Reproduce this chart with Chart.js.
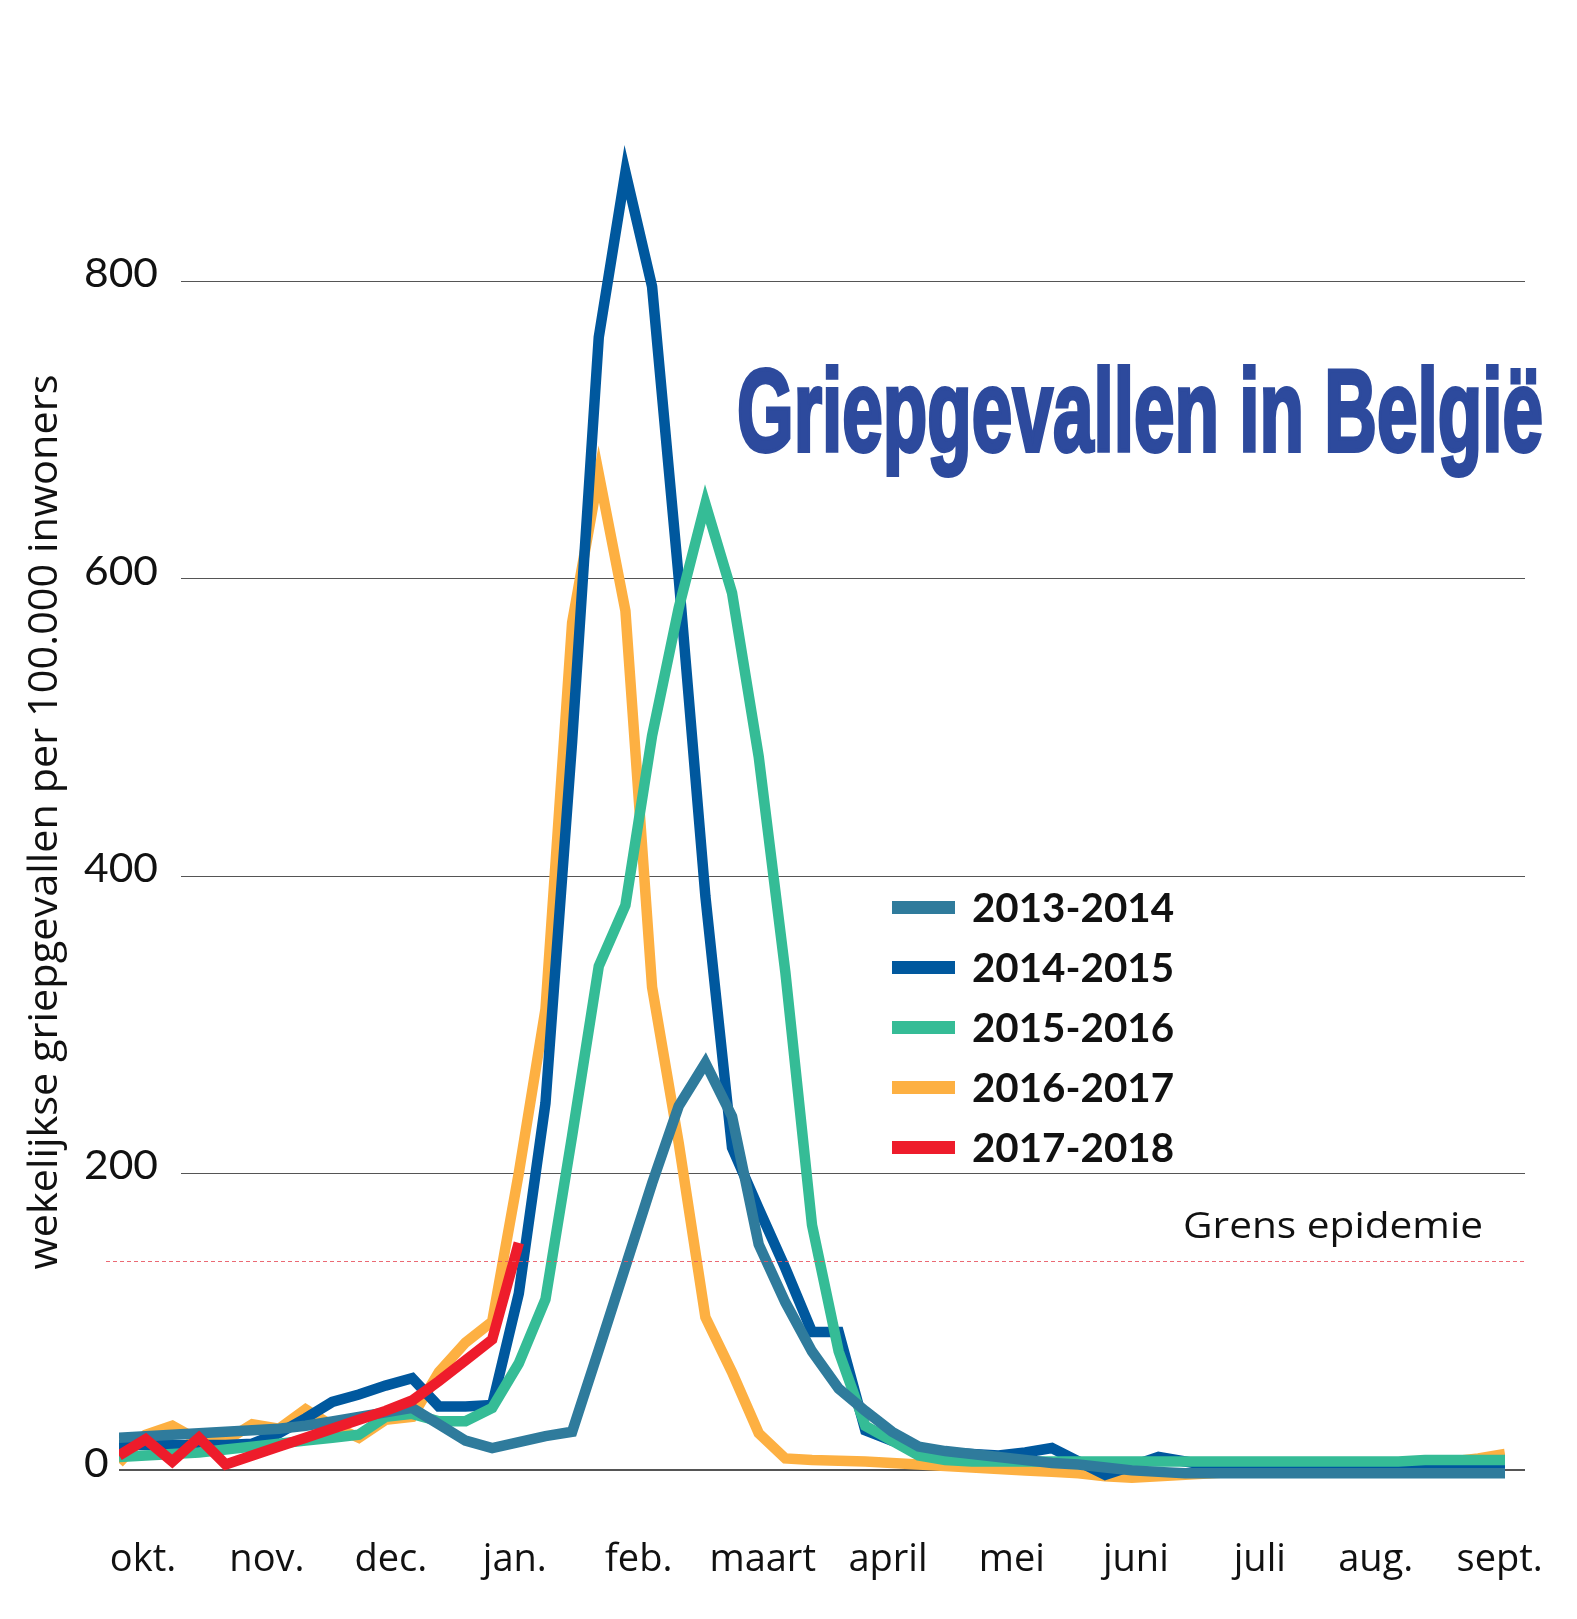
<!DOCTYPE html>
<html>
<head>
<meta charset="utf-8">
<script src="https://cdn.jsdelivr.net/npm/chart.js@4.4.1/dist/chart.umd.min.js"></script>
<style>
html,body{margin:0;padding:0;background:#ffffff;}
#wrap{width:1577px;height:1619px;position:relative;}
canvas{display:block;}
</style>
</head>
<body>
<div id="wrap"><canvas id="c" width="1577" height="1619"></canvas></div>
<script>
// ---------- data ----------
const chartTitle = 'Griepgevallen in België';
const yAxisTitle = 'wekelijkse griepgevallen per 100.000 inwoners';
const thresholdLabel = 'Grens epidemie';
const monthLabels = ['okt.','nov.','dec.','jan.','feb.','maart','april','mei','juni','juli','aug.','sept.'];
// week index (0 = first week of October) where each month label sits
const monthTickWeeks = [0.9,5.55,10.2,14.85,19.5,24.15,28.85,33.5,38.15,42.8,47.15,51.8];
const yTickValues = [0,200,400,600,800];
const epidemicThreshold = 141;

const seasonLabels = ['2013-2014','2014-2015','2015-2016','2016-2017','2017-2018'];
const seasonColors = ['#2f7b9c','#00589e','#35bc96','#fdb042','#ee1c2b'];

const s2013_2014 = [22,23,24,25,26,27,28,30,33,36,39,42,31,20,15,19,23,26,81,137,193,245,274,238,152,113,80,55,40,26,16,13,11,9,7,5,4,2,0,-1,-2,-2,-2,-2,-2,-2,-2,-2,-2,-2,-2,-2,-2];
const s2014_2015 = [17,17,17,17,17,18,25,35,46,51,57,62,43,43,44,119,247,490,762,873,796,600,386,217,176,136,93,93,27,20,15,12,11,10,12,15,6,-3,3,9,6,3,2,2,2,2,2,2,2,2,2,2,2];
const s2015_2016 = [9,10,11,12,14,16,18,20,22,24,36,38,33,33,42,72,115,225,339,380,494,580,650,590,480,335,165,80,30,20,10,7,6,6,6,6,6,6,6,6,6,6,6,6,6,6,6,6,6,7,7,7,7];
const s2016_2017 = [5,24,30,20,20,31,28,41,30,22,34,36,66,86,100,200,310,570,670,578,325,220,103,66,25,8,7,6.5,6,5,4,3,2,1,0,-1,-2,-4,-5,-4,-3,-2,-1,0,1,2,3,4,5,5,6,8,11];
const s2017_2018 = [10,21,6,22,4,10,16,22,28,34,40,47,60,74,88,153];

const seasonValues = [s2013_2014, s2014_2015, s2015_2016, s2016_2017, s2017_2018];
// drawing order: lower = on top
const seasonOrder = [1,3,2,4,0];

// ---------- chart ----------
const GRID_RIGHT_EXTRA = 20;

function fitText(ctx, text, x, y, font, width, align, color, strokeW) {
  ctx.save();
  ctx.font = font;
  const w = ctx.measureText(text).width;
  const sx = width / w;
  ctx.translate(x, y);
  ctx.scale(sx, 1);
  ctx.textAlign = align;
  ctx.textBaseline = 'alphabetic';
  ctx.fillStyle = color;
  ctx.fillText(text, 0, 0);
  if (strokeW) {
    ctx.strokeStyle = color;
    ctx.lineWidth = strokeW;
    ctx.lineJoin = 'miter';
    ctx.strokeText(text, 0, 0);
  }
  ctx.restore();
  return sx;
}

const decor = {
  id: 'decor',
  beforeDatasetsDraw(chart) {
    const {ctx, chartArea} = chart;
    const y = chart.scales.y;
    const gridRight = chartArea.right + GRID_RIGHT_EXTRA;
    ctx.save();
    yTickValues.forEach(v => {
      const py = Math.round(y.getPixelForValue(v));
      ctx.beginPath();
      if (v === 0) {
        ctx.strokeStyle = '#555555';
        ctx.lineWidth = 2;
        ctx.moveTo(chartArea.left, py);
        ctx.lineTo(gridRight, py);
      } else {
        ctx.strokeStyle = '#555555';
        ctx.lineWidth = 1;
        ctx.moveTo(chartArea.left + 62, py + 0.5);
        ctx.lineTo(gridRight, py + 0.5);
      }
      ctx.stroke();
    });
    ctx.restore();
  },
  afterDatasetsDraw(chart) {
    const {ctx, chartArea} = chart;
    const y = chart.scales.y;
    const py = Math.round(y.getPixelForValue(epidemicThreshold)) + 0.5;
    ctx.save();
    ctx.strokeStyle = 'rgba(232,80,92,0.85)';
    ctx.lineWidth = 1;
    ctx.setLineDash([4,3]);
    ctx.beginPath();
    ctx.moveTo(chartArea.left - 13, py);
    ctx.lineTo(chartArea.right + GRID_RIGHT_EXTRA, py);
    ctx.stroke();
    ctx.restore();
  },
  afterDraw(chart) {
    const {ctx} = chart;
    const y = chart.scales.y;
    // y tick labels
    ctx.save();
    ctx.fillStyle = '#111111';
    ctx.font = "400 40px Lato, 'Open Sans', sans-serif";
    const w800 = ctx.measureText('800').width;
    const sy = 74 / w800;
    yTickValues.forEach(v => {
      const py = y.getPixelForValue(v) + 6.5;
      ctx.save();
      ctx.translate(84, py);
      ctx.scale(sy, 1);
      ctx.textAlign = 'left';
      ctx.fillText(String(v), 0, 0);
      ctx.restore();
    });
    ctx.restore();

    // y axis title (rotated)
    ctx.save();
    ctx.translate(57, 822);
    ctx.rotate(-Math.PI / 2);
    fitText(ctx, yAxisTitle, 0, 0, "41px 'Open Sans', sans-serif", 895, 'center', '#111111');
    ctx.restore();

    // main title
    fitText(ctx, chartTitle, 737, 451, "bold 116px 'Liberation Sans Narrow', 'Liberation Sans', Roboto, sans-serif", 806, 'left', '#2d4a9d', 4);

    // legend
    ctx.save();
    ctx.font = "bold 40px Lato, 'Open Sans', sans-serif";
    const lw = ctx.measureText(seasonLabels[0]).width;
    const ls = 202 / lw;
    seasonLabels.forEach((lab, i) => {
      const cy = 907.5 + 60 * i;
      ctx.fillStyle = seasonColors[i];
      ctx.fillRect(892, cy - 6.5, 63, 13);
      ctx.save();
      ctx.translate(972, cy + 14.5);
      ctx.scale(ls, 1);
      ctx.fillStyle = '#111111';
      ctx.textAlign = 'left';
      ctx.fillText(lab, 0, 0);
      ctx.restore();
    });
    ctx.restore();

    // threshold label
    fitText(ctx, thresholdLabel, 1483, 1238, "36px 'Open Sans', sans-serif", 300, 'right', '#111111');
  }
};

const datasets = seasonLabels.map((lab, i) => ({
  label: lab,
  data: seasonValues[i].map((v, k) => ({x: k, y: v})),
  borderColor: seasonColors[i],
  backgroundColor: seasonColors[i],
  borderWidth: 10.5,
  pointRadius: 0,
  pointHoverRadius: 0,
  tension: 0,
  fill: false,
  borderJoinStyle: 'miter',
  borderCapStyle: 'butt',
  order: seasonOrder[i]
}));

new Chart(document.getElementById('c'), {
  type: 'line',
  data: { datasets },
  options: {
    responsive: false,
    devicePixelRatio: 1,
    animation: false,
    layout: { padding: { left: 119, right: 72, top: 132, bottom: 0 } },
    plugins: {
      legend: { display: false },
      tooltip: { enabled: false },
      title: { display: false }
    },
    scales: {
      x: {
        type: 'linear',
        min: 0,
        max: 52,
        grid: { display: false, drawTicks: false },
        border: { display: false },
        afterBuildTicks(scale) {
          scale.ticks = monthTickWeeks.map(v => ({ value: v }));
        },
        afterFit(scale) { scale.height = 104; },
        ticks: {
          autoSkip: false,
          maxRotation: 0,
          minRotation: 0,
          padding: 22,
          color: '#111111',
          font: { family: "'Open Sans', sans-serif", size: 38, weight: '400' },
          callback(value, index) { return monthLabels[index]; }
        }
      },
      y: {
        type: 'linear',
        display: false,
        min: -30,
        max: 900
      }
    }
  },
  plugins: [decor]
});
</script>
</body>
</html>
